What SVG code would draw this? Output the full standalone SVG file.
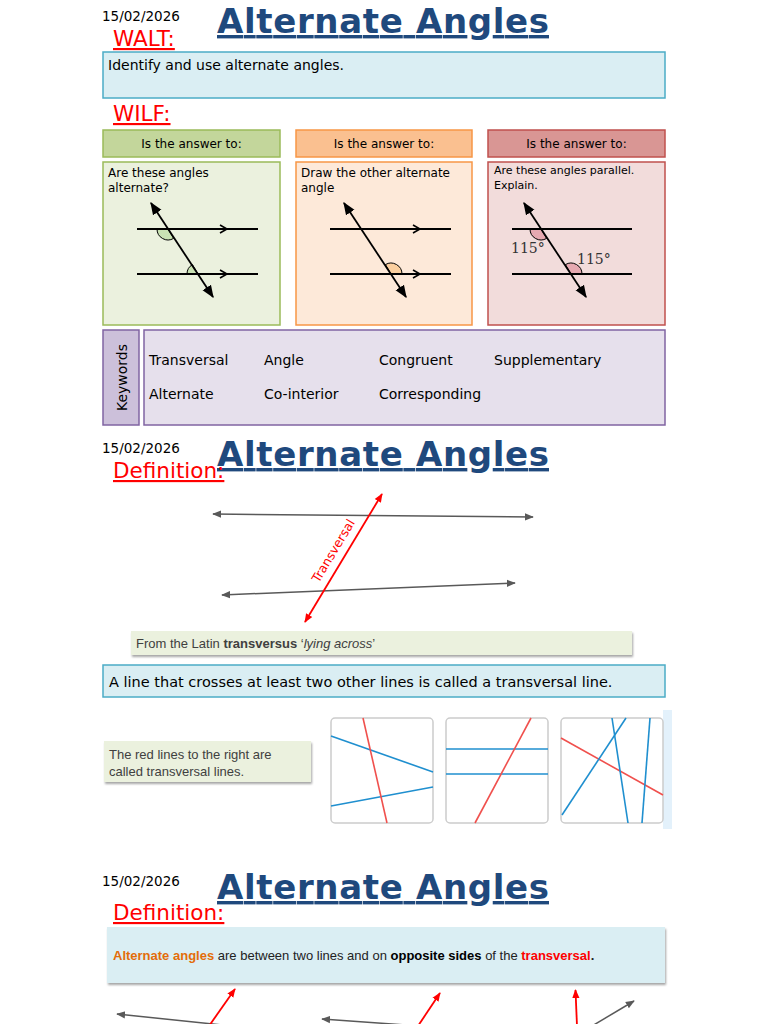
<svg xmlns="http://www.w3.org/2000/svg" width="768" height="1024" viewBox="0 0 768 1024">
<defs>
<marker id="ab" viewBox="0 0 10 10" refX="9" refY="5" markerWidth="7" markerHeight="7" orient="auto-start-reverse"><path d="M0,1 L10,5 L0,9 Z" fill="#000"/></marker>
<marker id="ag" viewBox="0 0 10 10" refX="9" refY="5" markerWidth="6" markerHeight="6" orient="auto-start-reverse"><path d="M0,1 L10,5 L0,9 Z" fill="#595959"/></marker>
<marker id="ar" viewBox="0 0 10 10" refX="9" refY="5" markerWidth="5" markerHeight="5" orient="auto-start-reverse"><path d="M0,1 L10,5 L0,9 Z" fill="#f00"/></marker>
<filter id="sh" x="-5%" y="-20%" width="110%" height="150%"><feDropShadow dx="1" dy="2" stdDeviation="1.2" flood-color="#000" flood-opacity="0.35"/></filter>
</defs>
<style>
text{font-family:"DejaVu Sans",sans-serif;fill:#000}
.date{font-size:13.5px}
.title{font-size:34px;font-weight:bold;fill:#1f497d;text-decoration:underline}
.lab{font-size:21.5px;fill:#f00;text-decoration:underline}
.t14{font-size:14px}
.t12{font-size:12px}
.t11{font-size:11px}
.ar{font-family:"Liberation Sans",Arial,sans-serif;font-size:13px}
.k{stroke:#000;stroke-width:1.8;fill:none}
.chev{stroke:#000;stroke-width:1.6;fill:none}
.g{stroke:#595959;stroke-width:1.5;fill:none}
.r{stroke:#f00;stroke-width:1.8;fill:none}
.bl{stroke:#1f8fcf;stroke-width:1.6;fill:none}
.rl{stroke:#f0504d;stroke-width:1.6;fill:none}
.pan{fill:#fff;stroke:#ccc;stroke-width:1.5}
</style>
<rect width="768" height="1024" fill="#fff"/>

<g id="section1">
<text class="date" x="102" y="21">15/02/2026</text>
<text class="title" x="217" y="33" textLength="332">Alternate Angles</text>
<text class="lab" x="113" y="46">WALT:</text>
<rect x="103" y="52" width="562" height="46" fill="#daeef3" stroke="#4bacc6" stroke-width="1.5"/>
<text class="t14" x="108" y="70">Identify and use alternate angles.</text>
<text class="lab" x="113" y="121">WILF:</text>
</g>

<g id="card1">
<rect x="103" y="130" width="177" height="27" fill="#c3d69b" stroke="#9bbb59" stroke-width="1.5"/>
<text class="t12" x="191.5" y="148" text-anchor="middle">Is the answer to:</text>
<rect x="103" y="162" width="177" height="163" fill="#ebf1de" stroke="#9bbb59" stroke-width="1.5"/>
<text class="t12" x="108" y="177">Are these angles</text>
<text class="t12" x="108" y="192">alternate?</text>
<path d="M168,229 L157,229 A11,11 0 0 0 173.6,238.4 Z" fill="#c9e2b3" stroke="#000"/>
<path d="M198,274 L187,274 A11,11 0 0 1 192.4,264.6 Z" fill="#c9e2b3" stroke="#000"/>
<line class="k" x1="137" y1="229" x2="258" y2="229"/>
<line class="k" x1="137" y1="274" x2="258" y2="274"/>
<polyline class="chev" points="220,225 227,229 220,233"/>
<polyline class="chev" points="220,270 227,274 220,278"/>
<line class="k" x1="151" y1="203" x2="213" y2="297" marker-start="url(#ab)" marker-end="url(#ab)"/>
</g>

<g id="card2">
<rect x="296" y="130" width="176" height="27" fill="#fac090" stroke="#f79646" stroke-width="1.5"/>
<text class="t12" x="384" y="148" text-anchor="middle">Is the answer to:</text>
<rect x="296" y="162" width="176" height="163" fill="#fde9d9" stroke="#f79646" stroke-width="1.5"/>
<text class="t12" x="301" y="177">Draw the other alternate</text>
<text class="t12" x="301" y="192">angle</text>
<path d="M391,274 L385.4,264.6 A11,11 0 0 1 402,274 Z" fill="#fbcf9f" stroke="#000"/>
<line class="k" x1="330" y1="229" x2="451" y2="229"/>
<line class="k" x1="330" y1="274" x2="451" y2="274"/>
<polyline class="chev" points="413,225 420,229 413,233"/>
<polyline class="chev" points="413,270 420,274 413,278"/>
<line class="k" x1="344" y1="203" x2="406" y2="297" marker-start="url(#ab)" marker-end="url(#ab)"/>
</g>

<g id="card3">
<rect x="488" y="130" width="177" height="27" fill="#d99694" stroke="#c0504d" stroke-width="1.5"/>
<text class="t12" x="576.5" y="148" text-anchor="middle">Is the answer to:</text>
<rect x="488" y="162" width="177" height="163" fill="#f2dcdb" stroke="#c0504d" stroke-width="1.5"/>
<text class="t11" x="494" y="174">Are these angles parallel.</text>
<text class="t11" x="494" y="189">Explain.</text>
<path d="M541,229 L530,229 A11,11 0 0 0 546.6,238.4 Z" fill="#e6a9b1" stroke="#000"/>
<path d="M571,274 L565.4,264.6 A11,11 0 0 1 582,274 Z" fill="#e6a9b1" stroke="#000"/>
<line class="k" x1="512" y1="229" x2="632" y2="229"/>
<line class="k" x1="512" y1="274" x2="632" y2="274"/>
<line class="k" x1="524" y1="203" x2="586" y2="297" marker-start="url(#ab)" marker-end="url(#ab)"/>
<text x="511" y="253" style="font-family:'DejaVu Serif',serif;font-size:14px;fill:#333">115°</text>
<text x="577" y="264" style="font-family:'DejaVu Serif',serif;font-size:14px;fill:#333">115°</text>
</g>

<g id="keywords">
<rect x="103" y="330" width="36" height="95" fill="#ccc0da" stroke="#8064a2" stroke-width="1.5"/>
<text class="t14" transform="translate(127,377.5) rotate(-90)" text-anchor="middle">Keywords</text>
<rect x="144" y="330" width="521" height="95" fill="#e6e0ec" stroke="#8064a2" stroke-width="1.5"/>
<text class="t14" x="149" y="365">Transversal</text>
<text class="t14" x="264" y="365">Angle</text>
<text class="t14" x="379" y="365">Congruent</text>
<text class="t14" x="494" y="365">Supplementary</text>
<text class="t14" x="149" y="399">Alternate</text>
<text class="t14" x="264" y="399">Co-interior</text>
<text class="t14" x="379" y="399">Corresponding</text>
</g>

<g id="section2">
<text class="date" x="102" y="453">15/02/2026</text>
<text class="title" x="217" y="466" textLength="332">Alternate Angles</text>
<text class="lab" x="113" y="478">Definition:</text>
</g>

<g id="connectors">
<line class="g" x1="213" y1="514" x2="533" y2="517" marker-start="url(#ag)" marker-end="url(#ag)"/>
<line class="g" x1="222" y1="595" x2="515" y2="583" marker-start="url(#ag)" marker-end="url(#ag)"/>
<line class="r" x1="305" y1="622" x2="382" y2="494" marker-start="url(#ar)" marker-end="url(#ar)"/>
<line class="g" x1="117" y1="1014" x2="232" y2="1026" marker-start="url(#ag)"/>
<line class="r" x1="209" y1="1026" x2="235" y2="989" marker-end="url(#ar)"/>
<line class="g" x1="322" y1="1019" x2="420" y2="1026" marker-start="url(#ag)"/>
<line class="r" x1="418" y1="1026" x2="440" y2="993" marker-end="url(#ar)"/>
<line class="r" x1="577" y1="1026" x2="575.5" y2="990" marker-end="url(#ar)"/>
<line class="g" x1="592" y1="1026" x2="634" y2="1001" marker-end="url(#ag)"/>
</g>
<text transform="translate(337,553) rotate(-59)" text-anchor="middle" style="font-family:'DejaVu Sans',sans-serif;font-size:12.5px;fill:#f00">Transversal</text>

<g id="latin">
<rect x="131" y="631" width="501" height="24" fill="#ebf1de" filter="url(#sh)"/>
<text class="ar" x="136" y="648" style="fill:#404040">From the Latin <tspan font-weight="bold">transversus</tspan> ‘<tspan font-style="italic">lying across</tspan>’</text>
</g>
<g id="defbox">
<rect x="103" y="665" width="562" height="32" fill="#daeef3" stroke="#4bacc6" stroke-width="1.5"/>
<text x="109" y="687" style="font-size:14.5px">A line that crosses at least two other lines is called a transversal line.</text>
</g>
<g id="redlines">
<rect x="104" y="741" width="207" height="41" fill="#ebf1de" filter="url(#sh)"/>
<text class="ar" x="109" y="759" style="fill:#404040">The red lines to the right are</text>
<text class="ar" x="109" y="776" style="fill:#404040">called transversal lines.</text>
</g>
<g id="panels">
<rect x="663" y="710" width="9" height="119" fill="#e3f1fb"/>
<rect class="pan" x="331" y="718" width="102" height="105" rx="4"/>
<line class="bl" x1="331" y1="736" x2="433" y2="772"/>
<line class="bl" x1="331" y1="806" x2="433" y2="787"/>
<line class="rl" x1="363" y1="718" x2="387" y2="823"/>
<rect class="pan" x="446" y="718" width="102" height="105" rx="4"/>
<line class="bl" x1="446" y1="749" x2="548" y2="749"/>
<line class="bl" x1="446" y1="774" x2="548" y2="774"/>
<line class="rl" x1="475" y1="823" x2="531" y2="718"/>
<rect class="pan" x="561" y="718" width="102" height="105" rx="4"/>
<line class="rl" x1="561" y1="738" x2="663" y2="795"/>
<line class="bl" x1="562" y1="815" x2="626" y2="718"/>
<line class="bl" x1="612" y1="718" x2="628" y2="823"/>
<line class="bl" x1="650" y1="718" x2="642" y2="823"/>
</g>

<g id="section3">
<text class="date" x="102" y="886">15/02/2026</text>
<text class="title" x="217" y="899" textLength="332">Alternate Angles</text>
<text class="lab" x="113" y="920">Definition:</text>
<rect x="107" y="927" width="558" height="56" fill="#daeef3" filter="url(#sh)"/>
<text class="ar" x="113" y="960" style="fill:#222"><tspan font-weight="bold" style="fill:#e36c09">Alternate angles</tspan> are between two lines and on <tspan font-weight="bold" style="fill:#000">opposite sides</tspan> of the <tspan font-weight="bold" style="fill:#f00">transversal</tspan><tspan font-weight="bold">.</tspan></text>
</g>
</svg>
